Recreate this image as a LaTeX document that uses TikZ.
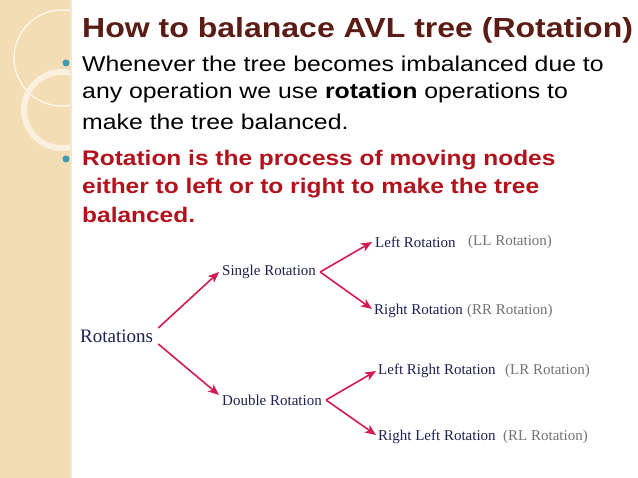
\documentclass[tikz,border=0pt]{standalone}
\usepackage{fontspec}
\setmainfont{Liberation Serif}
\newfontfamily\ars[FakeStretch=1.16]{Liberation Sans}
\usetikzlibrary{arrows.meta}
\definecolor{navy}{HTML}{1F2152}
\definecolor{arr}{HTML}{D41A52}
\definecolor{ttl}{HTML}{5A1C14}
\definecolor{redt}{HTML}{B3121C}
\definecolor{beige}{HTML}{F3DDB4}
\definecolor{teal}{HTML}{3E9BB0}
\tikzset{
 lbl/.style={text=navy,font=\fontsize{15}{18}\selectfont,anchor=west,inner sep=0pt},
 note/.style={text=gray!90!black,font=\fontsize{15}{18}\selectfont,anchor=west,inner sep=0pt},
 ar/.style={draw=arr,line width=1.6pt,-{Stealth[length=11pt,width=9pt,inset=3pt]}},
 body/.style={anchor=west,inner sep=0pt,font=\ars\fontsize{21.4}{29}\selectfont},
 redb/.style={body,text=redt,font=\ars\bfseries\fontsize{21.1}{29}\selectfont},
}
\begin{document}
\begin{tikzpicture}[x=1pt,y=-1pt]
\useasboundingbox (0,0) rectangle (638,478);
\fill[white] (0,0) rectangle (638,478);
\fill[beige] (0,0) rectangle (70,478);
\fill[beige!70!white] (70,0) rectangle (72,478);
\begin{scope}
\clip (0,0) rectangle (70,478);
\draw[white!85!beige,line width=1.2pt] (62,58) circle (48);
\draw[white!55!beige,line width=6pt] (62,110) circle (38);
\end{scope}
\node[anchor=west,inner sep=0pt,text=ttl,font=\ars\bfseries\fontsize{27.6}{32}\selectfont] (title) at (82,30) {How to balanace AVL tree (Rotation)};
\fill[teal] (66,63) circle (3.5);
\fill[teal] (66,159) circle (3.5);
\node[body] (b1) at (82,64) {Whenever the tree becomes imbalanced due to};
\node[body] (b2) at (82,93) {any operation we use \textbf{rotation} operations to};
\node[body] (b3) at (82,122) {make the tree balanced.};
\node[redb] (r1) at (82,160) {Rotation is the process of moving nodes};
\node[redb] (r2) at (82,188) {either to left or to right to make the tree};
\node[redb] (r3) at (82,215) {balanced.};
\node[lbl,font=\fontsize{19}{22}\selectfont] (rot) at (80,336) {Rotations};
\node[lbl] (sr) at (222,272) {Single Rotation};
\node[lbl] (dr) at (222,400) {Double Rotation};
\node[lbl] (ll) at (375,242) {Left Rotation};
\node[note] (lln) at (468,242) {(LL Rotation)};
\node[lbl] (rr) at (374,311) {Right Rotation};
\node[note] (rrn) at (467,311) {(RR Rotation)};
\node[lbl] (lr) at (378,371) {Left Right Rotation};
\node[note] (lrn) at (505,371) {(LR Rotation)};
\node[lbl] (rl) at (378,437) {Right Left Rotation};
\node[note] (rln) at (503,437) {(RL Rotation)};
\draw[ar] ([shift={(5,-8)}]rot.east) -- ([shift={(-3,0)}]sr.west);
\draw[ar] ([shift={(5,8)}]rot.east) -- ([shift={(-3,-5)}]dr.west);
\draw[ar] ([shift={(4,0)}]sr.east) -- ([shift={(-3,0)}]ll.west);
\draw[ar] ([shift={(4,0)}]sr.east) -- ([shift={(-2,-2)}]rr.west);
\draw[ar] ([shift={(4,0)}]dr.east) -- ([shift={(-2,0)}]lr.west);
\draw[ar] ([shift={(4,0)}]dr.east) -- ([shift={(-2,-2)}]rl.west);
\end{tikzpicture}
\end{document}
